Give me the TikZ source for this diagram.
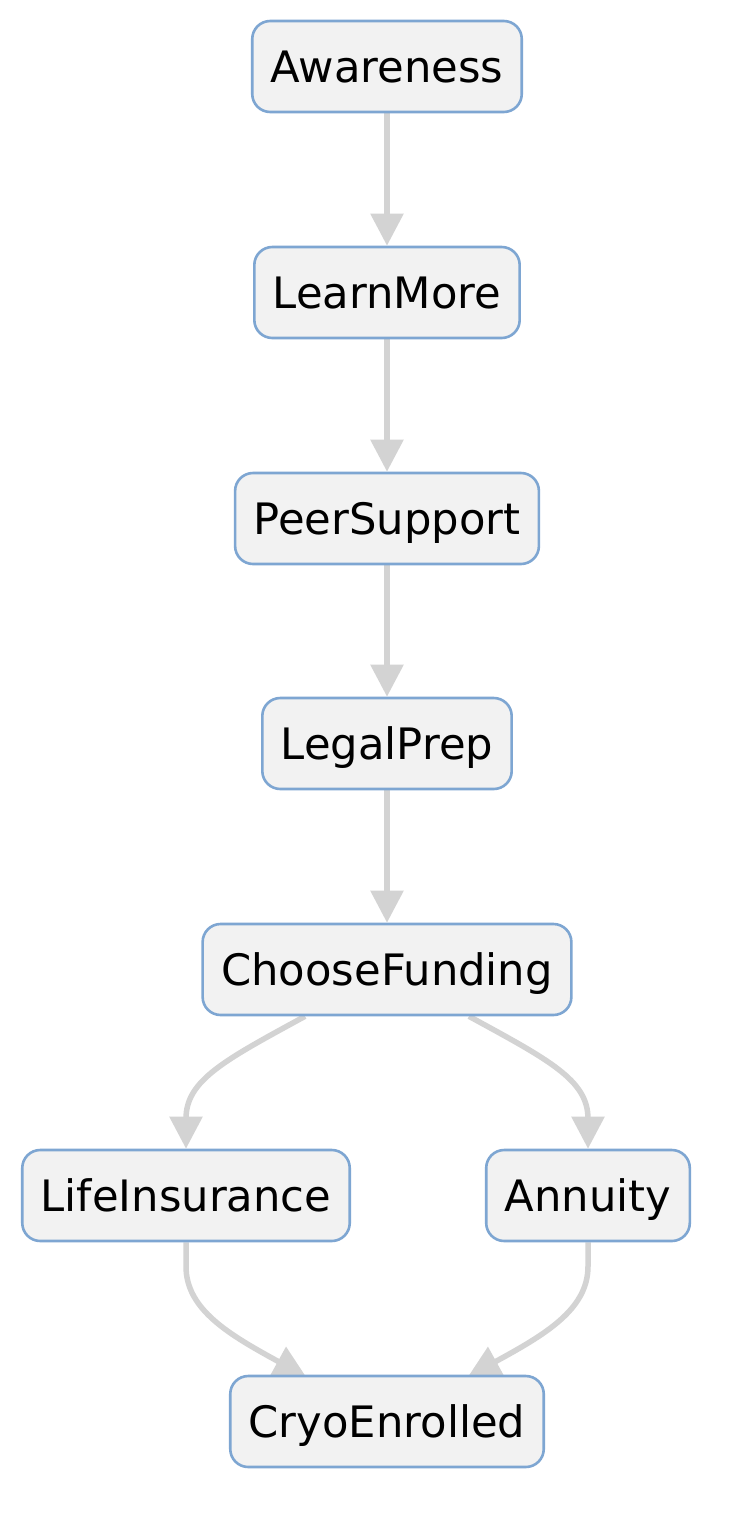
\documentclass[tikz,border=0pt]{standalone}
\usepackage{fontspec}
\setmainfont{DejaVu Sans}
\usetikzlibrary{arrows.meta,backgrounds,calc}
\definecolor{nodefill}{RGB}{242,242,242}
\definecolor{nodeline}{RGB}{126,166,210}
\definecolor{edgecol}{RGB}{211,211,211}
\begin{document}
\begin{tikzpicture}[x=1pt,y=-1pt,
 box/.style={draw=nodeline, fill=nodefill, line width=2.6pt, rounded corners=18pt,
   minimum height=91pt, inner xsep=18.5pt, inner ysep=0pt,
   text height=31.6pt, text depth=0pt, font=\fontsize{43.3}{52}\selectfont},
 edge/.style={draw=edgecol, line width=5.5pt, -{Triangle[length=32pt,width=32pt]}}]
\useasboundingbox (0,0) rectangle (735,1536);
\node[box] (aw) at (387,66.5) {Awareness};
\node[box] (lm) at (387,292.5) {LearnMore};
\node[box] (ps) at (387,518.5) {PeerSupport};
\node[box] (lp) at (387,743.5) {LegalPrep};
\node[box] (cf) at (387,969.5) {ChooseFunding};
\node[box] (li) at (186,1195.5) {LifeInsurance};
\node[box] (an) at (588,1195.5) {Annuity};
\node[box] (ce) at (387,1421.5) {CryoEnrolled};
\begin{pgfonlayer}{background}
\fill[white] (0,0) rectangle (735,1536);
\draw[edge] (aw.south) -- (lm.north);
\draw[edge] (lm.south) -- (ps.north);
\draw[edge] (ps.south) -- (lp.north);
\draw[edge] (lp.south) -- (cf.north);
\draw[edge] ($(cf.south)+(-82,0)$) .. controls (225,1060) and (186,1080) .. ($(li.north)+(0,-30)$) -- (li.north);
\draw[edge] ($(cf.south)+(82,0)$) .. controls (549,1060) and (588,1080) .. ($(an.north)+(0,-30)$) -- (an.north);
\draw[edge] (li.south) -- ($(li.south)+(0,24)$) .. controls (186,1310) and (230,1335) .. ($(ce.north)+(-81,2)$);
\draw[edge] (an.south) -- ($(an.south)+(0,24)$) .. controls (588,1310) and (544,1335) .. ($(ce.north)+(81,2)$);
\end{pgfonlayer}
\end{tikzpicture}
\end{document}
